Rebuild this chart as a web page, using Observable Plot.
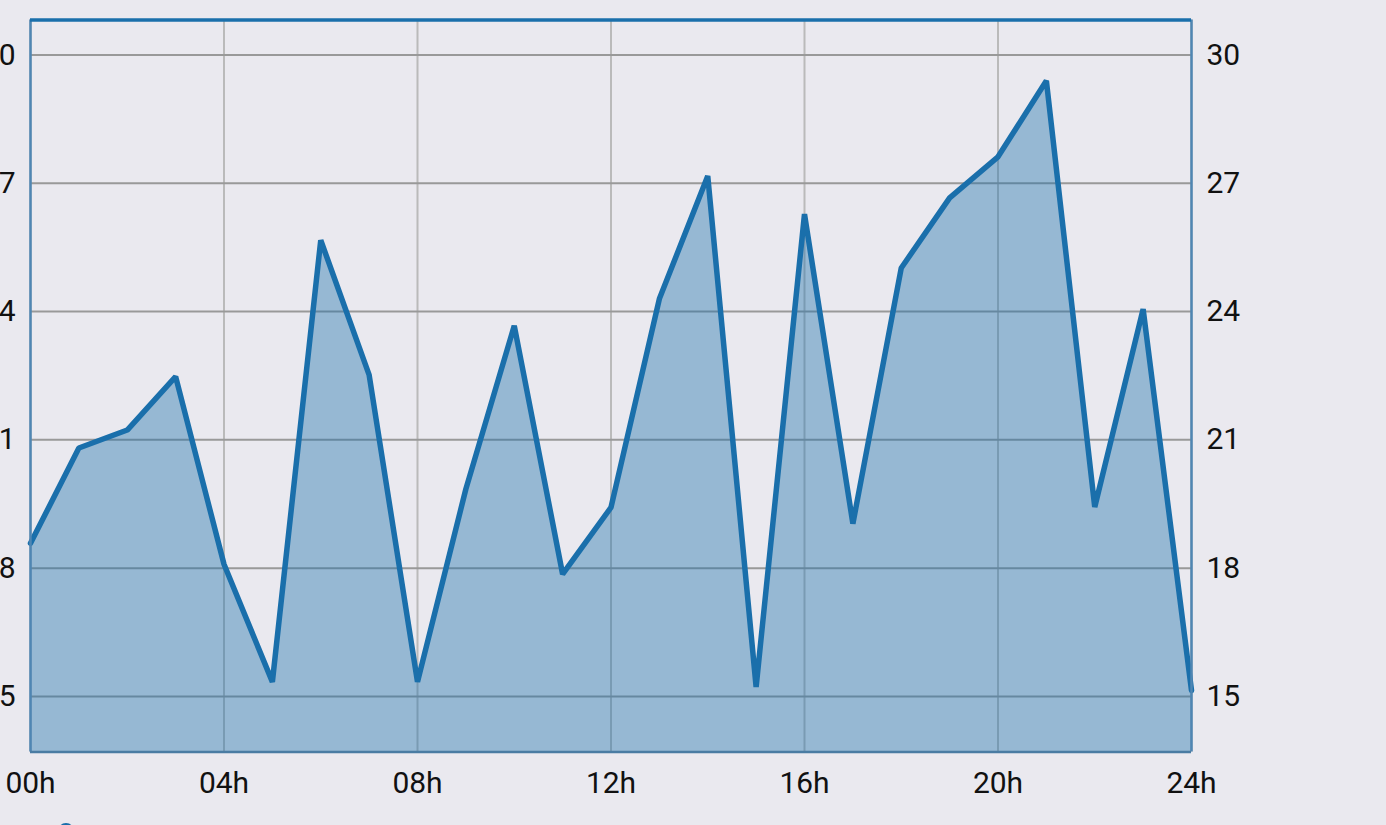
<!DOCTYPE html>
<html>
<head>
<meta charset="utf-8">
<script src="https://cdn.jsdelivr.net/npm/d3@7"></script>
<script src="https://cdn.jsdelivr.net/npm/@observablehq/plot@0.6"></script>
<style>
  html, body { margin: 0; padding: 0; background: #eae9ef; overflow: hidden; }
  #chart svg { display: block; }
  .legend { height: 20px; position: relative; }
  .legend .sw { position: absolute; left: 58px; top: 0; width: 16px; height: 16px; border-radius: 50%; background: #95b8d3; border: 2px solid #1a6fab; box-sizing: border-box; }
</style>
</head>
<body>
<div id="chart"></div>
<div class="legend"><span class="sw"></span></div>
<script>
// hours of the day
const hours = [0,1,2,3,4,5,6,7,8,9,10,11,12,13,14,15,16,17,18,19,20,21,22,23,24];
// values
const values = [18.58,20.81,21.23,22.48,18.09,15.34,25.67,22.52,15.34,19.85,23.67,17.86,19.42,24.30,27.17,15.22,26.28,19.04,25.02,26.66,27.62,29.40,19.43,24.06,15.14];
const xTicks = [0,4,8,12,16,20,24];
const yTicks = [15,18,21,24,27,30];
const yDomain = [13.70, 30.82];

const data = hours.map((h, i) => ({hour: h, value: values[i]}));
const fmtHour = d => String(d).padStart(2, "0") + "h";

const chart = Plot.plot({
  width: 1386,
  height: 823,
  marginLeft: 30,
  marginRight: 195,
  marginTop: 19.5,
  marginBottom: 71.5,
  style: {background: "#eae9ef", fontFamily: "Roboto", fontSize: "30px", color: "#111"},
  x: {domain: [0, 24], ticks: xTicks, tickFormat: fmtHour, label: null},
  y: {domain: yDomain, ticks: yTicks, label: null},
  marks: [
    Plot.gridX(xTicks, {stroke: "#bababa", strokeOpacity: 1, strokeWidth: 2}),
    Plot.gridY(yTicks, {stroke: "#999999", strokeOpacity: 1, strokeWidth: 2}),
    Plot.areaY(data, {x: "hour", y1: yDomain[0], y2: "value", fill: "#1a6fab", fillOpacity: 0.4}),
    Plot.lineY(data, {x: "hour", y: "value", stroke: "#1a6fab", strokeWidth: 5.5, strokeLinejoin: "miter"}),
    Plot.ruleX([0, 24], {stroke: "#4f86b3", strokeWidth: 2.5}),
    Plot.ruleY([yDomain[0]], {stroke: "#4a7ca3", strokeWidth: 2.5}),
    Plot.ruleY([yDomain[1]], {stroke: "#1a6fab", strokeWidth: 3.5}),
    Plot.axisX(xTicks, {tickSize: 0, tickPadding: 20, tickFormat: fmtHour, fontSize: 30, label: null}),
    Plot.axisY(yTicks, {anchor: "left", tickSize: 0, tickPadding: 15, fontSize: 30, label: null}),
    Plot.axisY(yTicks, {anchor: "right", tickSize: 0, tickPadding: 15, fontSize: 30, label: null})
  ]
});
document.getElementById("chart").appendChild(chart);
</script>
</body>
</html>
